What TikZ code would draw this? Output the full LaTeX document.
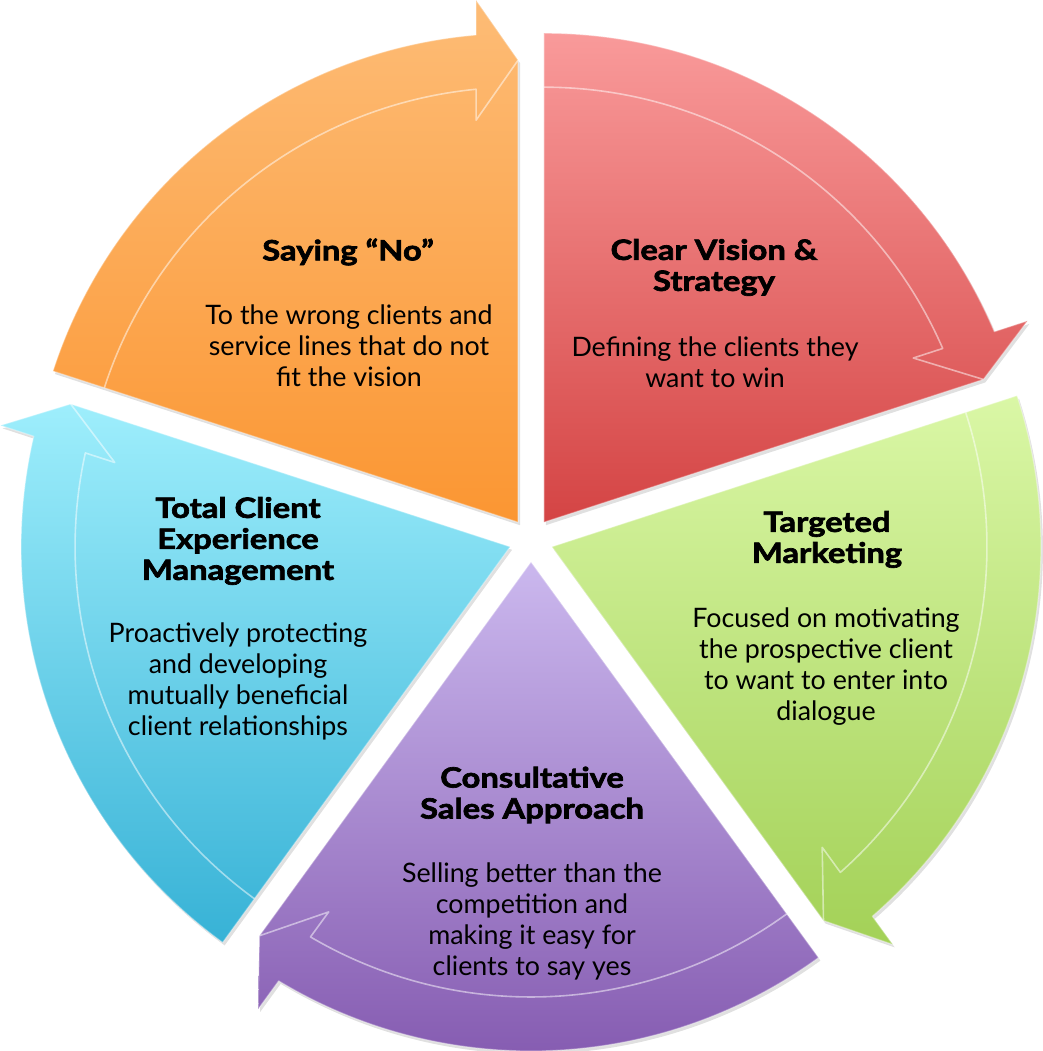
\documentclass[tikz,border=0pt]{standalone}
\usepackage{fontspec}
\setmainfont{Lato}[BoldFeatures={FakeBold=2.4,FakeStretch=1.17}]
\usetikzlibrary{calc}
\definecolor{redT}{HTML}{F99A9A}
\definecolor{redB}{HTML}{D44444}
\definecolor{grnT}{HTML}{DAF7A6}
\definecolor{grnB}{HTML}{A3D157}
\definecolor{purT}{HTML}{CBB8EE}
\definecolor{purB}{HTML}{8257AE}
\definecolor{cyaT}{HTML}{9EEEFC}
\definecolor{cyaB}{HTML}{37B2D6}
\definecolor{oraT}{HTML}{FDBC76}
\definecolor{oraB}{HTML}{FB9632}
\tikzset{
  titletext/.style={align=center, font=\fontsize{28}{31}\selectfont\bfseries, inner sep=0pt},
  bodytext/.style={align=center, font=\fontsize{26.8}{31}\selectfont, inner sep=0pt},
  shine/.style={draw=white, line width=1.6pt, opacity=0.5, line join=round},
  rim/.style={draw=white, line width=1.2pt, opacity=0.35, line join=round},
  shadowfill/.style={fill=black, opacity=0.12}
}
\begin{document}
\begin{tikzpicture}[x=1pt,y=1pt]
\useasboundingbox (0,0) rectangle (1042,1051);
\coordinate (C) at (531,511);
\foreach \k/\ct/\cb in {0/redT/redB,1/grnT/grnB,2/purT/purB,3/cyaT/cyaB,4/oraT/oraB}{
  \pgfmathsetmacro{\s}{90-72*\k}
  \pgfmathsetmacro{\e}{18-72*\k}
  \pgfmathsetmacro{\b}{54-72*\k}
  \pgfmathsetmacro{\eo}{\e+4.93}
  \pgfmathsetmacro{\ei}{\e+5.54}
  \pgfmathsetmacro{\en}{\e+90}
  \coordinate (A\k) at ($(C)+(\b:22)$);
  % shadow
  \fill[shadowfill] ($(A\k)+(2,-3)$) -- ++(\s:489) arc[start angle=\s, end angle=\eo, radius=489]
     -- ($(A\k)+(2,-3)+(\e:522)+(\en:42)$) -- ($(A\k)+(2,-3)+(\e:462)$) -- cycle;
  % segment body
  \shade[top color=\ct, bottom color=\cb] (A\k) -- ($(A\k)+(\s:489)$) arc[start angle=\s, end angle=\eo, radius=489]
     -- ($(A\k)+(\e:522)+(\en:42)$) -- ($(A\k)+(\e:462)$) -- cycle;
  % bevel highlights
  \draw[rim] (A\k) -- ($(A\k)+(\s:489)$) arc[start angle=\s, end angle=\eo, radius=489]
     -- ($(A\k)+(\e:522)+(\en:42)$) -- ($(A\k)+(\e:462)$) -- cycle;
  \draw[shine] ($(A\k)+(\s:435)$) arc[start angle=\s, end angle=\ei, radius=435]
     -- ($(A\k)+(\e:402)+(\en:42)$) -- ($(A\k)+(\e:462)$);
}
% texts
\node[titletext] (t1) at (714,783.5) {Clear Vision \&\\Strategy};
\node[bodytext]  (b1) at (715,689) {Defining the clients they\\want to win};
\node[titletext] (t2) at (827,511.5) {Targeted\\Marketing};
\node[bodytext]  (b2) at (826,384.5) {Focused on motivating\\the prospective client\\to want to enter into\\dialogue};
\node[titletext] (t3) at (532,256) {Consultative\\Sales Approach};
\node[bodytext]  (b3) at (532,130) {Selling better than the\\competition and\\making it easy for\\clients to say yes};
\node[titletext] (t4) at (238,510) {Total Client\\Experience\\Management};
\node[bodytext]  (b4) at (238,369.5) {Proactively protecting\\and developing\\mutually beneficial\\client relationships};
\node[titletext] (t5) at (348,799) {Saying “No”};
\node[bodytext]  (b5) at (349,705) {To the wrong clients and\\service lines that do not\\fit the vision};
\end{tikzpicture}
\end{document}
